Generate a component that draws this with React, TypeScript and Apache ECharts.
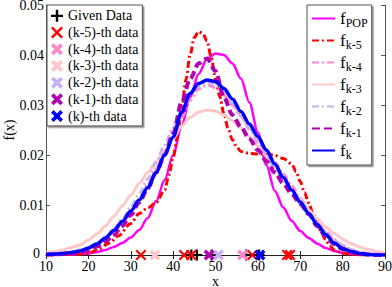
import React, { useEffect, useRef } from "react";
import * as echarts from "echarts";

// ---- Data ----
const xGrid = [10,12,14,16,18,20,22,24,26,28,30,32,34,36,38,40,42,44,46,48,50,52,54,56,58,60,62,64,66,68,70,72,74,76,78,80,82,84,86,88,90];

const fPOP = [0,0,0.0001,0.0001,0.0002,0.0003,0.0006,0.001,0.0016,0.0024,0.0035,0.005,0.0074,0.0108,0.015,0.02,0.0258,0.0315,0.0362,0.0392,0.0403,0.04,0.0383,0.0353,0.0305,0.0245,0.018,0.0128,0.0095,0.0068,0.0048,0.0034,0.0023,0.0014,0.0008,0.0004,0.0002,0.0001,0,0,0];

const xK5 = [10,15,20,22,25,27,30,32,34,36,38,39,40,41,42,43,44,45,46,47,48,49,50,51,52,53,54,55,56,58,60,62,64,66,68,69,70,71,72,73,74,75,76,77,78,80,82,85,90];
const fK5 = [0,0.0001,0.0003,0.001,0.0024,0.0038,0.0063,0.0083,0.0094,0.0105,0.013,0.016,0.0195,0.0235,0.029,0.035,0.04,0.0435,0.0447,0.0443,0.0428,0.0395,0.0352,0.0317,0.0282,0.0252,0.023,0.0216,0.0207,0.0203,0.0202,0.0202,0.0199,0.0193,0.0182,0.0167,0.0147,0.0125,0.0104,0.0083,0.0063,0.0045,0.003,0.0018,0.001,0.0004,0.0001,0,0];

const fK4 = [0.0001,0.0002,0.0003,0.0005,0.0008,0.0013,0.002,0.003,0.0045,0.0063,0.0085,0.011,0.014,0.0172,0.0207,0.024,0.0275,0.031,0.0332,0.034,0.0335,0.032,0.03,0.0278,0.0255,0.0232,0.0208,0.0185,0.0162,0.0138,0.0113,0.009,0.0068,0.0048,0.0031,0.0019,0.001,0.0005,0.0002,0.0001,0];

const fK3 = [0.0004,0.0007,0.001,0.0015,0.002,0.003,0.0042,0.0058,0.0077,0.0098,0.012,0.0143,0.0165,0.0187,0.021,0.0233,0.0258,0.0275,0.0286,0.029,0.0288,0.028,0.0268,0.0254,0.0237,0.0218,0.0198,0.0176,0.0153,0.0131,0.011,0.009,0.0072,0.0056,0.0043,0.0032,0.0023,0.0016,0.0011,0.0007,0.0004];

const fK2 = [0.0001,0.0002,0.0004,0.0006,0.001,0.0015,0.0023,0.0035,0.0052,0.0072,0.0096,0.0122,0.0152,0.0185,0.022,0.0255,0.029,0.032,0.0338,0.0345,0.034,0.0325,0.0303,0.0278,0.0252,0.0225,0.0198,0.0172,0.0148,0.0125,0.0103,0.0082,0.0062,0.0045,0.003,0.0019,0.0011,0.0006,0.0003,0.0002,0.0001];

const fK1 = [0.0001,0.0001,0.0002,0.0004,0.0006,0.001,0.0017,0.0027,0.004,0.0058,0.008,0.0105,0.0133,0.0165,0.02,0.0243,0.0305,0.0352,0.0383,0.0393,0.0368,0.0315,0.028,0.0256,0.0232,0.021,0.0188,0.0165,0.0143,0.0122,0.0102,0.0082,0.0058,0.0038,0.0022,0.0012,0.0006,0.0003,0.0001,0,0];

const fK = [0.0001,0.0002,0.0003,0.0005,0.0008,0.0014,0.0022,0.0034,0.0049,0.0067,0.0088,0.011,0.0135,0.0165,0.02,0.0236,0.0285,0.0323,0.0343,0.035,0.0347,0.0333,0.0312,0.0287,0.0262,0.0237,0.021,0.0182,0.0155,0.013,0.0106,0.0083,0.0061,0.0041,0.0024,0.0013,0.0007,0.0003,0.0001,0,0];

// sample points (all at f = 0)
const givenData = [44.3, 45.6, 49.1, 57.2, 60.3];
const dataK5 = [32.4, 42.6, 44.3, 58.7, 66.9, 67.6];
const dataK4 = [56.4];
const dataK3 = [35.7];
const dataK2 = [50.7];
const dataK1 = [48.5];
const dataK = [60.5];

const xTicks = { min: 10, max: 90, interval: 10 };
const yTicks = { min: 0, max: 0.05, interval: 0.01 };

const FONT = "Liberation Serif";

const X_THIN = "path://M0,1.4 L1.4,0 L5,3.6 L8.6,0 L10,1.4 L6.4,5 L10,8.6 L8.6,10 L5,6.4 L1.4,10 L0,8.6 L3.6,5 Z";
const X_THICK = "path://M0,2.2 L2.2,0 L5,2.8 L7.8,0 L10,2.2 L7.2,5 L10,7.8 L7.8,10 L5,7.2 L2.2,10 L0,7.8 L2.8,5 Z";
const PLUS = "path://M4,0 L6,0 L6,4 L10,4 L10,6 L6,6 L6,10 L4,10 L4,6 L0,6 L0,4 L4,4 Z";

const zip = (xs: number[], ys: number[]) => xs.map((x, i) => [x, ys[i]]);
const atZero = (xs: number[]) => xs.map((x) => [x, 0]);

const subMap: Record<string, string> = {
  fPOP: "POP",
  "fk-5": "k-5",
  "fk-4": "k-4",
  "fk-3": "k-3",
  "fk-2": "k-2",
  "fk-1": "k-1",
  fk: "k",
};

export default function App() {
  const ref = useRef<HTMLDivElement>(null);
  useEffect(() => {
    if (!ref.current) return;
    const chart = echarts.init(ref.current, undefined, { renderer: "svg" });

    const lineSeries = (name: string, xs: number[], ys: number[], color: string, width: number, type: any) => ({
      name,
      type: "line",
      data: zip(xs, ys),
      showSymbol: false,
      symbol: "none",
      smooth: 0.3,
      smoothMonotone: "x",
      lineStyle: { color, width, type },
      itemStyle: { color },
      z: 2,
    });
    const scatterSeries = (name: string, xs: number[], color: string, symbol: string, size: number, z: number) => ({
      name,
      type: "scatter",
      data: atZero(xs),
      symbol,
      symbolSize: size,
      itemStyle: { color, opacity: 1 },
      clip: false,
      z,
    });

    const option: any = {
      animation: false,
      textStyle: { fontFamily: FONT },
      grid: { left: 46, right: 7, top: 5, bottom: 32, containLabel: false, outerBoundsMode: "none" },
      xAxis: [
        {
          type: "value",
          ...xTicks,
          name: "x",
          nameLocation: "middle",
          nameGap: 20,
          nameMoveOverlap: false,
          nameTextStyle: { fontFamily: FONT, fontSize: 14, color: "#000", lineHeight: 12 },
          axisLine: { lineStyle: { color: "#222", width: 1 } },
          axisTick: { inside: true, length: 4, lineStyle: { color: "#222" } },
          axisLabel: { fontFamily: FONT, fontSize: 14, color: "#000", margin: 6, lineHeight: 10 },
          splitLine: { show: false },
        },
        {
          type: "value",
          position: "top",
          ...xTicks,
          axisLine: { lineStyle: { color: "#222", width: 1 } },
          axisTick: { inside: true, length: 4, lineStyle: { color: "#222" } },
          axisLabel: { show: false },
          splitLine: { show: false },
        },
      ],
      yAxis: [
        {
          type: "value",
          ...yTicks,
          name: "f(x)",
          nameLocation: "middle",
          nameGap: 30,
          nameMoveOverlap: false,
          nameRotate: 90,
          nameTextStyle: { fontFamily: FONT, fontSize: 14, color: "#000", lineHeight: 14 },
          axisLine: { show: true, lineStyle: { color: "#555", width: 1 } },
          axisTick: { show: true, inside: true, length: 4, lineStyle: { color: "#555" } },
          axisLabel: {
            fontFamily: FONT,
            fontSize: 14,
            color: "#000",
            margin: 2,
            lineHeight: 10,
            formatter: (v: number) => (v === 0 ? "{z|0}" : v.toFixed(2)),
            rich: {
              z: { fontFamily: FONT, fontSize: 14, color: "#000", lineHeight: 10, padding: [0, 4, 4, 0] },
            },
          },
          splitLine: { show: false },
        },
        {
          type: "value",
          position: "right",
          ...yTicks,
          axisLine: { show: true, lineStyle: { color: "#555", width: 1 } },
          axisTick: { show: true, inside: true, length: 4, lineStyle: { color: "#555" } },
          axisLabel: { show: false },
          splitLine: { show: false },
        },
      ],
      legend: [
        {
          orient: "vertical",
          left: 47,
          top: 5,
          padding: [3, 4, 2, 4],
          itemGap: 1,
          itemWidth: 12,
          itemHeight: 12,
          backgroundColor: "#fff",
          borderColor: "#555",
          borderWidth: 1,
          shadowColor: "rgba(0,0,0,0.45)",
          shadowOffsetX: 1.5,
          shadowOffsetY: 1.5,
          shadowBlur: 0,
          textStyle: { fontFamily: FONT, fontSize: 14, color: "#000", lineHeight: 15.7 },
          data: ["Given Data", "(k-5)-th data", "(k-4)-th data", "(k-3)-th data", "(k-2)-th data", "(k-1)-th data", "(k)-th data"],
        },
        {
          orient: "vertical",
          left: 307,
          top: 5,
          padding: [5, 4, 4, 4],
          itemGap: 3,
          itemWidth: 23,
          itemHeight: 14,
          backgroundColor: "#fff",
          borderColor: "#555",
          borderWidth: 1,
          shadowColor: "rgba(0,0,0,0.45)",
          shadowOffsetX: 1.5,
          shadowOffsetY: 1.5,
          shadowBlur: 0,
          itemStyle: { color: "rgba(0,0,0,0)", borderColor: "rgba(0,0,0,0)", borderWidth: 0, opacity: 0 },
          formatter: (name: string) => `{f|f}{s|${subMap[name]}}`,
          textStyle: {
            fontFamily: FONT,
            color: "#000",
            rich: {
              f: { fontFamily: FONT, fontSize: 17, color: "#000", lineHeight: 20 },
              s: { fontFamily: FONT, fontSize: 12, color: "#000", padding: [9, 0, 0, 0] },
            },
          },
          data: ["fPOP", "fk-5", "fk-4", "fk-3", "fk-2", "fk-1", "fk"],
        },
      ],
      series: [
        scatterSeries("Given Data", givenData, "#000", PLUS, 11, 10),
        scatterSeries("(k-5)-th data", dataK5, "#ff0000", X_THIN, 11, 11),
        scatterSeries("(k-4)-th data", dataK4, "#ff88cc", X_THICK, 11, 12),
        scatterSeries("(k-3)-th data", dataK3, "#ffc4c8", X_THICK, 11, 13),
        scatterSeries("(k-2)-th data", dataK2, "#c8b0f0", X_THICK, 11, 14),
        scatterSeries("(k-1)-th data", dataK1, "#b000b0", X_THICK, 11, 15),
        scatterSeries("(k)-th data", dataK, "#0000ff", X_THICK, 11, 16),
        lineSeries("fPOP", xGrid, fPOP, "#ff00ff", 2.5, "solid"),
        lineSeries("fk-5", xK5, fK5, "#ff0000", 3, [7, 3, 2, 3]),
        lineSeries("fk-4", xGrid, fK4, "#ff88cc", 3, [7, 3, 2, 3]),
        lineSeries("fk-3", xGrid, fK3, "#ffc8c8", 3, "solid"),
        lineSeries("fk-2", xGrid, fK2, "#c8b4f0", 3, [7, 3, 2, 3]),
        lineSeries("fk-1", xGrid, fK1, "#b000b0", 4, [8, 4]),
        lineSeries("fk", xGrid, fK, "#0000ff", 3.5, "solid"),
      ],
    };
    chart.setOption(option);
    return () => chart.dispose();
  }, []);
  return (
    <div
      ref={ref}
      style={{ position: "fixed", left: 0, top: 0, width: 392, height: 287, background: "#fff" }}
    />
  );
}
